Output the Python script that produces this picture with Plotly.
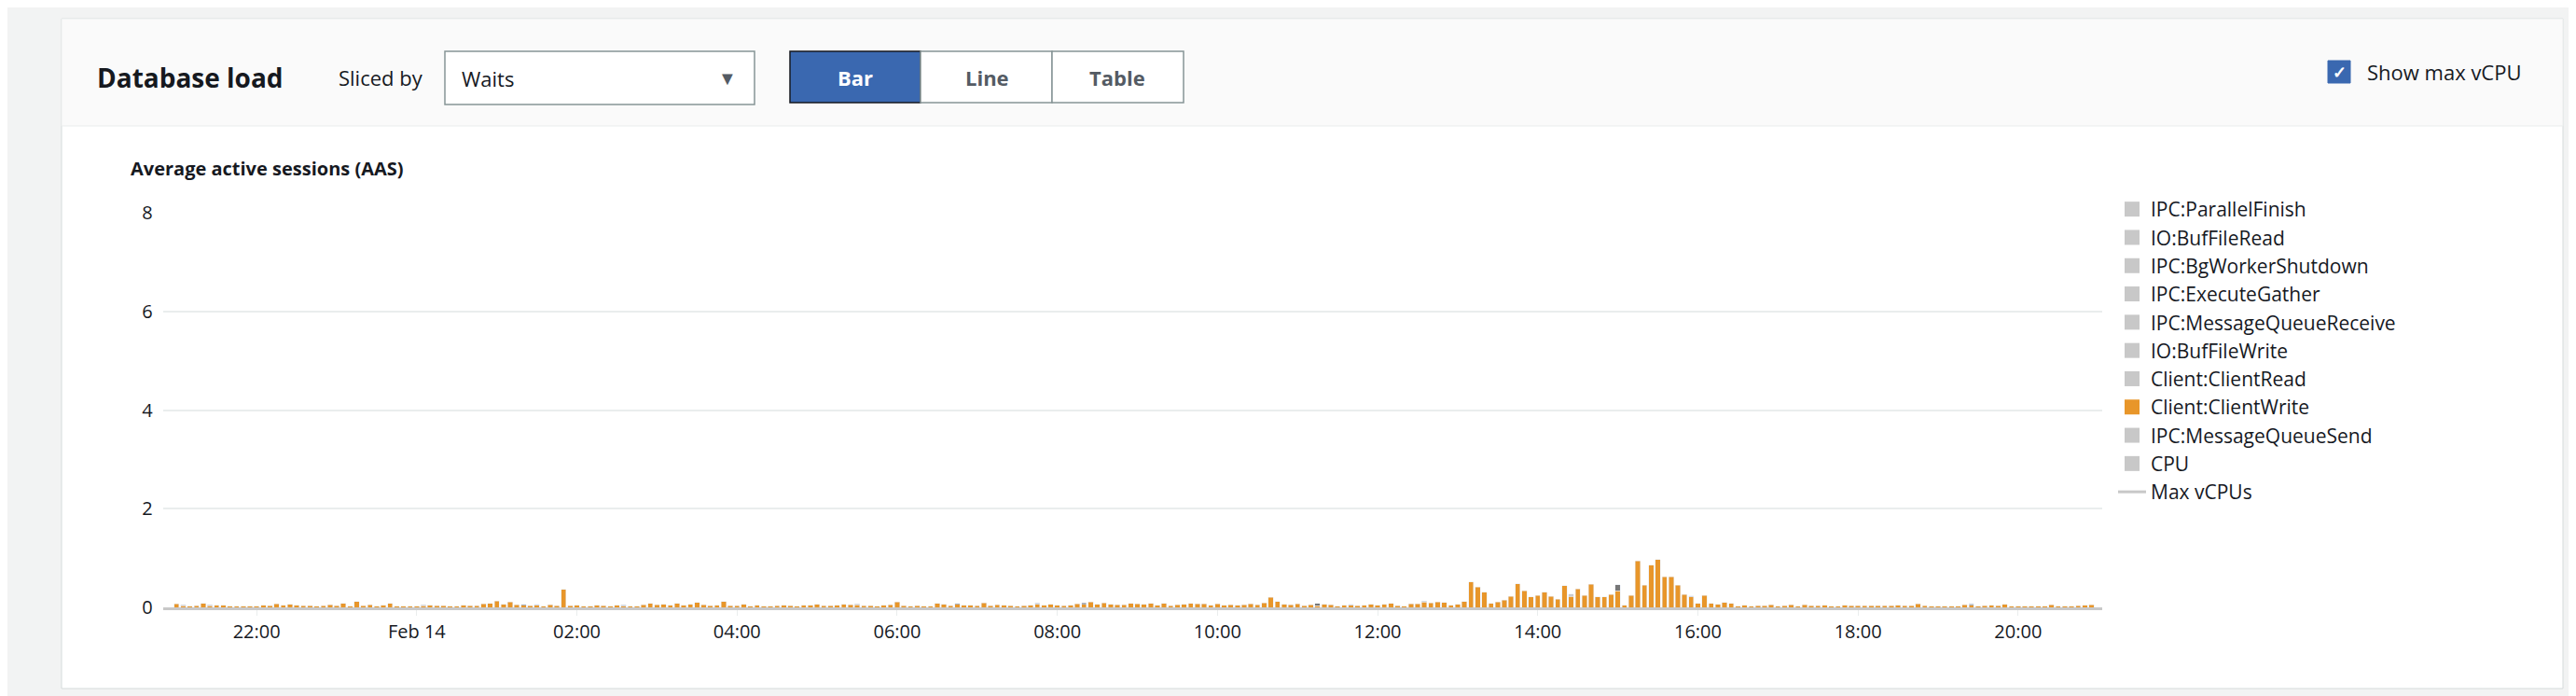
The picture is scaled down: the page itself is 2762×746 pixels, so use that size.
import pandas as pd
import plotly.graph_objects as go

# 5-minute buckets, Feb 13 21:00 -> Feb 14 20:55
times = pd.date_range('2024-02-13 21:00', periods=288, freq='5min')

# Client:ClientWrite AAS, one row per hour (12 x 5 min)
client_write = [
    0.07, 0.03, 0.02, 0.03, 0.08, 0.03, 0.04, 0.04, 0.02, 0.02, 0.02, 0.02,  # 21h
    0.02, 0.04, 0.03, 0.07, 0.04, 0.06, 0.04, 0.03, 0.03, 0.02, 0.03, 0.05,  # 22h
    0.03, 0.08, 0.02, 0.12, 0.03, 0.05, 0.02, 0.04, 0.08, 0.02, 0.02, 0.02,  # 23h
    0.02, 0.03, 0.04, 0.03, 0.03, 0.02, 0.02, 0.04, 0.03, 0.03, 0.07, 0.08,  # 00h
    0.13, 0.06, 0.11, 0.05, 0.04, 0.03, 0.04, 0.02, 0.05, 0.03, 0.36, 0.03,  # 01h
    0.04, 0.02, 0.02, 0.04, 0.03, 0.02, 0.04, 0.02, 0.02, 0.02, 0.05, 0.08,  # 02h
    0.05, 0.06, 0.04, 0.08, 0.04, 0.06, 0.10, 0.05, 0.03, 0.04, 0.12, 0.03,  # 03h
    0.03, 0.06, 0.02, 0.04, 0.02, 0.02, 0.03, 0.04, 0.03, 0.02, 0.04, 0.04,  # 04h
    0.06, 0.03, 0.03, 0.04, 0.06, 0.05, 0.05, 0.03, 0.03, 0.02, 0.04, 0.05,  # 05h
    0.11, 0.03, 0.02, 0.03, 0.02, 0.02, 0.08, 0.06, 0.03, 0.06, 0.04, 0.04,  # 06h
    0.03, 0.09, 0.03, 0.05, 0.04, 0.03, 0.02, 0.03, 0.04, 0.06, 0.04, 0.06,  # 07h
    0.04, 0.03, 0.04, 0.07, 0.06, 0.11, 0.06, 0.09, 0.06, 0.05, 0.05, 0.08,  # 08h
    0.07, 0.06, 0.08, 0.04, 0.08, 0.03, 0.05, 0.06, 0.08, 0.07, 0.07, 0.04,  # 09h
    0.07, 0.04, 0.05, 0.04, 0.05, 0.07, 0.05, 0.09, 0.20, 0.12, 0.06, 0.05,  # 10h
    0.07, 0.03, 0.05, 0.03, 0.06, 0.05, 0.02, 0.04, 0.04, 0.03, 0.04, 0.06,  # 11h
    0.04, 0.06, 0.08, 0.03, 0.02, 0.07, 0.07, 0.11, 0.09, 0.11, 0.10, 0.04,  # 12h
    0.06, 0.12, 0.52, 0.41, 0.31, 0.08, 0.11, 0.15, 0.22, 0.48, 0.34, 0.21,  # 13h
    0.24, 0.31, 0.22, 0.17, 0.44, 0.22, 0.37, 0.24, 0.47, 0.21, 0.21, 0.26,  # 14h
    0.34, 0.04, 0.24, 0.94, 0.45, 0.86, 0.97, 0.62, 0.62, 0.45, 0.26, 0.21,  # 15h
    0.08, 0.24, 0.08, 0.06, 0.10, 0.08, 0.02, 0.04, 0.02, 0.03, 0.03, 0.05,  # 16h
    0.02, 0.03, 0.05, 0.02, 0.05, 0.03, 0.03, 0.04, 0.02, 0.02, 0.04, 0.03,  # 17h
    0.03, 0.03, 0.03, 0.03, 0.03, 0.03, 0.04, 0.03, 0.03, 0.07, 0.03, 0.02,  # 18h
    0.02, 0.02, 0.02, 0.02, 0.05, 0.04, 0.02, 0.03, 0.04, 0.03, 0.06, 0.02,  # 19h
    0.02, 0.02, 0.02, 0.02, 0.02, 0.05, 0.02, 0.02, 0.02, 0.03, 0.04, 0.05,  # 20h
]

# sparse small grey slices on top
cpu_times = ['2024-02-13 21:05', '2024-02-13 21:25', '2024-02-14 00:05', '2024-02-14 01:30',
             '2024-02-14 02:35', '2024-02-14 05:30', '2024-02-14 07:45', '2024-02-14 11:40',
             '2024-02-14 12:35', '2024-02-14 14:25', '2024-02-14 15:55', '2024-02-14 19:25']
cpu_values = [0.02, 0.02, 0.02, 0.02, 0.03, 0.02, 0.03, 0.02, 0.02, 0.03, 0.02, 0.02]
mqs_times = ['2024-02-14 01:20', '2024-02-14 06:45', '2024-02-14 08:20',
             '2024-02-14 11:15', '2024-02-14 14:25', '2024-02-14 15:00', '2024-02-14 19:25']
mqs_values = [0.02, 0.02, 0.03, 0.05, 0.02, 0.12, 0.02]

legend_names = ['IPC:ParallelFinish', 'IO:BufFileRead', 'IPC:BgWorkerShutdown', 'IPC:ExecuteGather',
                'IPC:MessageQueueReceive', 'IO:BufFileWrite', 'Client:ClientRead',
                'Client:ClientWrite', 'IPC:MessageQueueSend', 'CPU']

tick_vals = ['2024-02-13 22:00', '2024-02-14 00:00', '2024-02-14 02:00', '2024-02-14 04:00',
             '2024-02-14 06:00', '2024-02-14 08:00', '2024-02-14 10:00', '2024-02-14 12:00',
             '2024-02-14 14:00', '2024-02-14 16:00', '2024-02-14 18:00', '2024-02-14 20:00']
tick_text = ['22:00', 'Feb 14', '02:00', '04:00', '06:00', '08:00', '10:00', '12:00',
             '14:00', '16:00', '18:00', '20:00']

W, H = 2762, 746
L, R, T, B = 167, 2246, 220, 643
def px(x): return (x - L) / (R - L)
def py(y): return (B - y) / (B - T)

GREY = '#c8c8c8'
ORANGE = '#e8962a'
fig = go.Figure()
fig.add_trace(go.Bar(x=times, y=client_write, name='Client:ClientWrite', marker_color=ORANGE,
                     showlegend=False))
fig.add_trace(go.Bar(x=pd.to_datetime(mqs_times), y=mqs_values, name='IPC:MessageQueueSend',
                     marker_color='#777777', showlegend=False))
fig.add_trace(go.Bar(x=pd.to_datetime(cpu_times), y=cpu_values, name='CPU', marker_color=GREY,
                     showlegend=False))

# legend entries (big rounded-ish squares like the console)
for n in legend_names:
    fig.add_trace(go.Scatter(x=[None], y=[None], mode='markers', name=n,
                             marker=dict(symbol='square', size=22,
                                         color=ORANGE if n == 'Client:ClientWrite' else GREY)))
fig.add_trace(go.Scatter(x=[None], y=[None], mode='lines', name='Max vCPUs',
                         line=dict(color=GREY, width=3)))

shapes = [
    dict(type='rect', xref='paper', yref='paper', x0=px(58), x1=px(2740), y0=py(730), y1=py(12),
         fillcolor='white', line=dict(color='#d5dbdb', width=1), layer='below'),
    dict(type='rect', xref='paper', yref='paper', x0=px(58), x1=px(2740), y0=py(127), y1=py(12),
         fillcolor='#fafafa', line=dict(color='#eaeded', width=1), layer='below'),
    dict(type='rect', xref='paper', yref='paper', x0=px(469), x1=px(801), y0=py(104), y1=py(47),
         fillcolor='white', line=dict(color='#879596', width=1.5)),
    dict(type='rect', xref='paper', yref='paper', x0=px(839), x1=px(979), y0=py(102), y1=py(47),
         fillcolor='#3a68b0', line=dict(color='#16191f', width=1.5)),
    dict(type='rect', xref='paper', yref='paper', x0=px(979), x1=px(1120), y0=py(102), y1=py(47),
         fillcolor='white', line=dict(color='#879596', width=1.5)),
    dict(type='rect', xref='paper', yref='paper', x0=px(1120), x1=px(1261), y0=py(102), y1=py(47),
         fillcolor='white', line=dict(color='#879596', width=1.5)),
    dict(type='rect', xref='paper', yref='paper', x0=px(2488), x1=px(2512), y0=py(81), y1=py(57),
         fillcolor='#3a68b0', line=dict(color='#3a68b0', width=1)),
]

F = 'Open Sans, Noto Sans, sans-serif'
def ann(text, x, y, size=22, color='#16191f', bold=False, xanchor='left'):
    return dict(text=f'<b>{text}</b>' if bold else text, xref='paper', yref='paper',
                x=px(x), y=py(y), xanchor=xanchor, yanchor='middle', showarrow=False,
                font=dict(family=F, size=size, color=color))

annotations = [
    ann('Database load', 94, 75, size=28, bold=True),
    ann('Sliced by', 353, 75, size=22),
    ann('Waits', 485, 76, size=22),
    ann('▼', 772, 75, size=20, color='#545b64', xanchor='center'),
    ann('Bar', 909, 75, size=22, color='white', bold=True, xanchor='center'),
    ann('Line', 1050, 75, size=22, color='#545b64', bold=True, xanchor='center'),
    ann('Table', 1190, 75, size=22, color='#545b64', bold=True, xanchor='center'),
    ann('✓', 2500, 69, size=18, color='white', bold=True, xanchor='center'),
    ann('Show max vCPU', 2528, 69, size=22),
    ann('Average active sessions (AAS)', 130, 173, size=20, bold=True),
]

fig.update_layout(
    width=W, height=H, barmode='stack', bargap=0.25,
    margin=dict(l=L, r=W - R, t=T, b=H - B),
    paper_bgcolor='#f2f3f3', plot_bgcolor='#fcfcfc',
    font=dict(family=F, size=20, color='#16191f'),
    shapes=shapes, annotations=annotations,
    legend=dict(x=px(2258), y=py(196), xanchor='left', yanchor='top',
                font=dict(size=21, color='#16191f'), bgcolor='rgba(0,0,0,0)',
                traceorder='normal', itemsizing='trace', itemwidth=30),
    xaxis=dict(type='date', range=['2024-02-13 20:50', '2024-02-14 21:03'],
               tickvals=pd.to_datetime(tick_vals), ticktext=tick_text, showgrid=False,
               showline=True, linecolor=GREY, linewidth=3, ticks='outside', tickcolor='#eaeded',
               ticklen=6, tickfont=dict(size=20)),
    yaxis=dict(range=[0, 8], dtick=2, gridcolor='#eaeded', gridwidth=2, zeroline=False,
               tickfont=dict(size=20), ticksuffix='  '),
)

fig.write_html('out.html')
